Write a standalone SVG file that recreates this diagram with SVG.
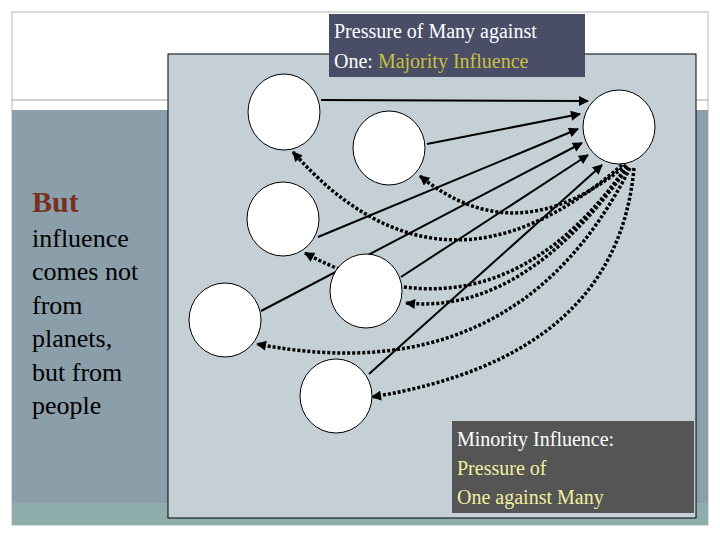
<svg xmlns="http://www.w3.org/2000/svg" width="720" height="540" viewBox="0 0 720 540">
<defs>
<marker id="ah" viewBox="0 0 10 10" refX="9" refY="5" markerWidth="12" markerHeight="10" markerUnits="userSpaceOnUse" orient="auto"><path d="M0,0 L10,5 L0,10 z" fill="#000"/></marker>
<style>
.s{stroke:#000;stroke-width:2;fill:none;marker-end:url(#ah)}
.d{stroke:#000;stroke-width:3.5;fill:none;stroke-dasharray:3 2;marker-end:url(#ah)}
.n{fill:#fff;stroke:#000;stroke-width:1}
.t{font-family:"Liberation Serif",serif}
</style>
</defs>
<rect width="720" height="540" fill="#fff"/>
<rect x="12" y="12" width="696" height="513" fill="#fff" stroke="#b0b8bc"/>
<line x1="12" y1="100" x2="708" y2="100" stroke="#a0a8ac"/>
<rect x="12" y="110" width="696" height="393" fill="#8a9faa"/>
<rect x="12" y="503" width="696" height="22" fill="#8fadab"/>
<rect x="168" y="54" width="528" height="464" fill="#c5d0d6" stroke="#000"/>
<g class="t" font-size="26" fill="#000">
<text x="32" y="212" font-size="30" font-weight="bold" fill="#7a3020">But</text>
<text x="32" y="247">influence</text>
<text x="32" y="280">comes not</text>
<text x="32" y="314">from</text>
<text x="32" y="347">planets,</text>
<text x="32" y="381">but from</text>
<text x="32" y="414">people</text>
</g>
<g id="connectors">
<line class="s" x1="321" y1="100" x2="588" y2="101"/>
<line class="s" x1="427" y1="144" x2="580" y2="114"/>
<line class="s" x1="318" y1="237" x2="578" y2="129"/>
<line class="s" x1="261" y1="311" x2="582" y2="143"/>
<line class="s" x1="401" y1="277" x2="588" y2="155"/>
<line class="s" x1="369" y1="374" x2="602" y2="165"/>
<path class="d" d="M622,165 Q442,321 293,152"/>
<path class="d" d="M626,165 Q517,255 420,176"/>
<path class="d" d="M627,166 Q494,355 305,253"/>
<path class="d" d="M628,167 Q523,315 406,303"/>
<path class="d" d="M630,168 Q516,394 257,344"/>
<path class="d" d="M634,168 Q617,357 372,397"/>
</g>
<g id="nA"><ellipse class="n" cx="284" cy="112" rx="36" ry="38"/></g>
<g id="nB"><ellipse class="n" cx="389" cy="148" rx="36" ry="37"/></g>
<g id="nC"><ellipse class="n" cx="283" cy="219" rx="36" ry="37"/></g>
<g id="nD"><ellipse class="n" cx="225" cy="320" rx="36" ry="37"/></g>
<g id="nE"><ellipse class="n" cx="366" cy="291" rx="36" ry="37"/></g>
<g id="nF"><ellipse class="n" cx="336" cy="396" rx="36" ry="37"/></g>
<g id="nT"><ellipse class="n" cx="619" cy="127" rx="36" ry="37"/></g>
<g id="majority">
<rect x="329" y="14" width="256" height="63" fill="#4a4d66"/>
<text class="t" x="334" y="38" font-size="20" fill="#fff">Pressure of Many against</text>
<text class="t" x="334" y="68" font-size="20" fill="#fff">One: <tspan fill="#c8c040">Majority Influence</tspan></text>
</g>
<g id="minority">
<rect x="452" y="421" width="242" height="92" fill="#555"/>
<text class="t" x="457" y="446" font-size="20" fill="#fff">Minority Influence:</text>
<text class="t" x="457" y="475" font-size="20" fill="#f0f0a0">Pressure of</text>
<text class="t" x="457" y="504" font-size="20" fill="#f0f0a0">One against Many</text>
</g>
</svg>
